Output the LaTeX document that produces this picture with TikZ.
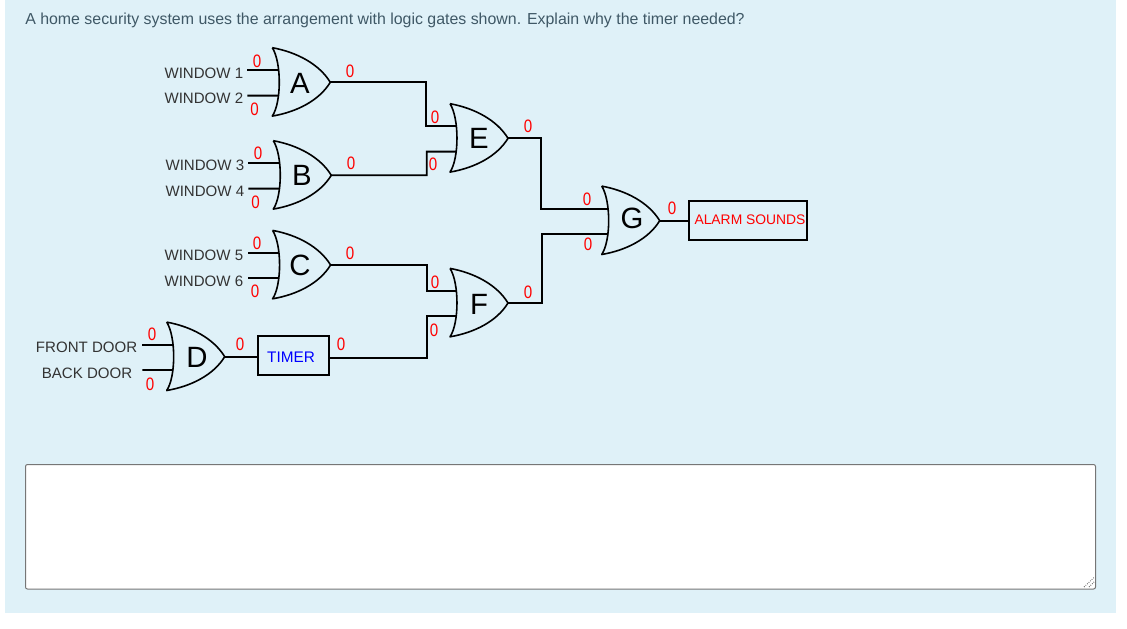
\documentclass[tikz,border=0pt]{standalone}
\usepackage{fontspec}
\setmainfont{Liberation Sans}
\newfontfamily\bitfont[FakeStretch=.84]{Liberation Sans}
\usetikzlibrary{positioning,calc}
\definecolor{panelblue}{HTML}{DFF1F8}
\definecolor{questiongrey}{HTML}{3F5866}
\definecolor{boxgrey}{HTML}{767676}
\tikzset{
  wire/.style={line width=1.35pt,line cap=rect},
  bitlabel/.style={text=red,font=\bitfont\fontsize{13.5}{15}\selectfont,inner sep=0pt},
  inputlabel/.style={text=black!80,font=\fontsize{11.3}{13}\selectfont,inner sep=0pt},
  gatelabel/.style={font=\fontsize{22}{24}\selectfont,inner sep=0pt},
  outbox/.style={draw,line width=1.35pt,inner sep=0pt},
  orgate/.pic={
    \draw[line width=1.2pt,line join=round] (0,-34.6) .. controls (9.3,-20) and (9.3,20) .. (0,33.8)
      .. controls (25,29.5) and (47,18) .. (58,0) coordinate (-out)
      .. controls (47,-18) and (25,-30) .. (0,-34.6);
    \coordinate (-in1) at (5.5,-12);
    \coordinate (-in2) at (5.5,13.3);
  }
}
\begin{document}
\begin{tikzpicture}[x=.75pt,y=-.75pt]
\useasboundingbox (0,0) rectangle (1127,628);
\fill[panelblue] (5,0) rectangle (1116,613);
\node[anchor=west,inner sep=0pt,text=questiongrey,font=\fontsize{11.93}{14}\selectfont] (question) at (25,20.5)
  {A home security system uses the arrangement with logic gates shown. Explain why the timer needed?};
\draw[boxgrey,fill=white,line width=.75pt,rounded corners=1.5pt] (25.5,464.5) rectangle (1095.5,589);
\draw[black!70,densely dotted,line width=.6pt] (1084,587) -- (1094,577.5);
\draw[black!70,densely dotted,line width=.6pt] (1089,587) -- (1094,582);
% gates
\pic (A) at (272.3,82.3) {orgate};
\pic (B) at (273.3,175.3) {orgate};
\pic (C) at (272.6,265) {orgate};
\pic (D) at (166.7,356.7) {orgate};
\pic (E) at (450,138.3) {orgate};
\pic (F) at (450,303) {orgate};
\pic (G) at (601.7,220.7) {orgate};
\node[gatelabel] (labelA) at (300,83) {A};
\node[gatelabel] (labelB) at (302,175.5) {B};
\node[gatelabel] (labelC) at (300,265) {C};
\node[gatelabel] (labelD) at (197,357) {D};
\node[gatelabel] (labelE) at (479,138.5) {E};
\node[gatelabel] (labelF) at (479,304) {F};
\node[gatelabel] (labelG) at (632,218.5) {G};
% boxes
\node[outbox,minimum width=53.5pt,minimum height=29.5pt,text=blue,font=\fontsize{11.5}{13}\selectfont,text height=10.5pt,text depth=0pt] (timer) at (293.3,355.4) {TIMER\hspace*{3.4pt}};
\node[outbox,minimum width=89pt,minimum height=29.3pt,text=red,font=\fontsize{10.4}{12}\selectfont] (alarm) at (748,220.2) {\hspace*{3pt}ALARM SOUNDS};
% inputs
\node[inputlabel,anchor=east] (w1) at (243.5,73) {WINDOW 1};
\node[inputlabel,anchor=east] (w2) at (243.5,98.5) {WINDOW 2};
\node[inputlabel,anchor=east] (w3) at (244.5,165.5) {WINDOW 3};
\node[inputlabel,anchor=east] (w4) at (244.5,191) {WINDOW 4};
\node[inputlabel,anchor=east] (w5) at (243.5,255.5) {WINDOW 5};
\node[inputlabel,anchor=east] (w6) at (243.5,281) {WINDOW 6};
\node[inputlabel,anchor=east] (front) at (137.5,347.5) {FRONT DOOR};
\node[inputlabel,anchor=east] (back) at (132.5,373) {BACK DOOR};
\coordinate (t1) at (248.3,70.3);
\coordinate (t2) at (248.3,95.6);
\coordinate (t3) at (249.3,163.3);
\coordinate (t4) at (249.3,188.6);
\coordinate (t5) at (248.6,253);
\coordinate (t6) at (248.6,278.3);
\coordinate (t7) at (143.3,344.7);
\coordinate (t8) at (143.3,370);
\draw[wire] (t1) -- (A-in1);
\draw[wire] (t2) -- (A-in2);
\draw[wire] (t3) -- (B-in1);
\draw[wire] (t4) -- (B-in2);
\draw[wire] (t5) -- (C-in1);
\draw[wire] (t6) -- (C-in2);
\draw[wire] (t7) -- (D-in1);
\draw[wire] (t8) -- (D-in2);
% connections
\draw[wire] (A-out) -| (426.3,126.3) -- (E-in1);
\draw[wire] (B-out) -| (426.8,151.6) -- (E-in2);
\draw[wire] (C-out) -| (426.8,291) -- (F-in1);
\draw[wire] (timer.east |- 0,357.7) -| (426.8,316.3) -- (F-in2);
\draw[wire] (E-out) -| (541,208.7) -- (G-in1);
\draw[wire] (F-out) -| (542,234) -- (G-in2);
\draw[wire] (D-out) -- (D-out -| timer.west);
\draw[wire] (G-out) -- (G-out -| alarm.west);
% bit values
\foreach \name/\pos in {a1/{257,61},a2/{254.5,109},aout/{350,71},b1/{258,153},b2/{255.5,202},bout/{351,163},
  c1/{257,243},c2/{255,291},cout/{350,253},d1/{152,334},d2/{150,384},dout/{240,344},
  e1/{435,117},e2/{433,164},eout/{528,126},f1/{435,282},f2/{434,330},fout/{528,292},
  g1/{587,199},g2/{588,244},gout/{672,208},tout/{341,344}}
  \node[bitlabel] (\name) at (\pos) {0};
\end{tikzpicture}
\end{document}
